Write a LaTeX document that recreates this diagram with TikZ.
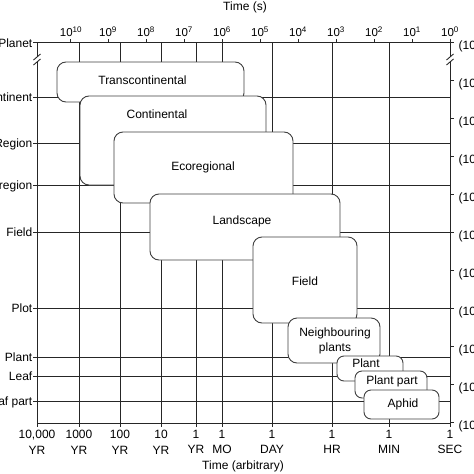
\documentclass[tikz,border=0pt]{standalone}
\usepackage{fontspec}
\setmainfont{Liberation Sans}
\begin{document}
\begin{tikzpicture}[x=1pt,y=-1pt,
  gridline/.style={line width=0.9pt, draw=black!85},
  boxstyle/.style={draw=black!75, line width=0.9pt, fill=white, rounded corners=9pt},
  sbox/.style={boxstyle, rounded corners=7pt},
  txt/.style={font=\fontsize{12}{14.5}\selectfont, inner sep=0pt},
  toplbl/.style={font=\fontsize{11.5}{13}\selectfont, inner sep=0pt, anchor=base},
  leftlbl/.style={txt, anchor=base east},
  rightlbl/.style={txt, anchor=base west},
  botlbl/.style={font=\fontsize{12}{15.5}\selectfont, inner sep=0pt, align=center, anchor=north}
]
\useasboundingbox (0,0) rectangle (474,474);

% grid: vertical lines
\foreach \x in {79,120,161,196,222,272,332,389}
  \draw[gridline] (\x,42.7) -- (\x,427);
% horizontal lines (with left ticks)
\foreach \y in {97,143,185,232,308,357,376,401}
  \draw[gridline] (33,\y) -- (450,\y);
% top and bottom axes
\draw[gridline] (33,42.7) -- (450,42.7);
\draw[gridline] (37,423) -- (450,423);
% left axis with break
\draw[gridline] (37,42.7) -- (37,57);
\draw[gridline] (37,62) -- (37,427);
\draw[gridline] (33.5,60) -- (40.5,54);
\draw[gridline] (33.5,65) -- (40.5,59);
% right axis with break
\draw[gridline] (450,38.7) -- (450,57);
\draw[gridline] (450,62) -- (450,427);
\draw[gridline] (446.5,60) -- (453.5,54);
\draw[gridline] (446.5,65) -- (453.5,59);
% top ticks
\foreach \x in {70,108,146,184,222,260,298,336,374,412}
  \draw[gridline] (\x,42.7) -- (\x,38.7);
% right ticks
\foreach \k in {0,...,10}
  \draw[gridline] (450,42.7+38*\k) -- (454,42.7+38*\k);

% titles
\node[txt] (ttop) at (245,7) {Time (s)};
\node[txt] (tbot) at (243,466) {Time (arbitrary)};

% top labels
\node[toplbl] (e10) at (71,36.5) {10\textsuperscript{10}};
\node[toplbl] (e9) at (108,36.5) {10\textsuperscript{9}};
\node[toplbl] (e8) at (146,36.5) {10\textsuperscript{8}};
\node[toplbl] (e7) at (184,36.5) {10\textsuperscript{7}};
\node[toplbl] (e6) at (222,36.5) {10\textsuperscript{6}};
\node[toplbl] (e5) at (260,36.5) {10\textsuperscript{5}};
\node[toplbl] (e4) at (298,36.5) {10\textsuperscript{4}};
\node[toplbl] (e3) at (336,36.5) {10\textsuperscript{3}};
\node[toplbl] (e2) at (374,36.5) {10\textsuperscript{2}};
\node[toplbl] (e1) at (412,36.5) {10\textsuperscript{1}};
\node[toplbl] (e0) at (450,36.5) {10\textsuperscript{0}};

% left labels
\node[leftlbl] (lplanet) at (32.5,47) {Planet};
\node[leftlbl] (lcont) at (32.5,101.3) {Continent};
\node[leftlbl] (lreg) at (32.5,147.3) {Region};
\node[leftlbl] (lsub) at (32.5,189.3) {Subregion};
\node[leftlbl] (lfield) at (32.5,236.3) {Field};
\node[leftlbl] (lplot) at (32.5,312.3) {Plot};
\node[leftlbl] (lplant) at (32.5,361.3) {Plant};
\node[leftlbl] (lleaf) at (32.5,380.3) {Leaf};
\node[leftlbl] (lleafp) at (32.5,405.3) {Leaf part};

% right labels
\foreach \k in {0,...,10}
  \node[rightlbl] (r\k) at (458.5,42.7+38*\k+7) {(10};

% bottom labels
\node[botlbl] (b1) at (37,430) {10,000\\YR};
\node[botlbl] (b2) at (79,430) {1000\\YR};
\node[botlbl] (b3) at (120,430) {100\\YR};
\node[botlbl] (b4) at (161,430) {10\\YR};
\node[botlbl] (b5) at (196,430) {1\\YR};
\node[botlbl] (b6) at (222,430) {1\\MO};
\node[botlbl] (b7) at (272,430) {1\\DAY};
\node[botlbl] (b8) at (332,430) {1\\HR};
\node[botlbl] (b9) at (389,430) {1\\MIN};
\node[botlbl] (b10) at (450,430) {1\\SEC};

% boxes
\draw[boxstyle] (57,62) rectangle (244,102);
\node[txt] (tc) at (142.5,80) {Transcontinental};
\draw[boxstyle] (80,96) rectangle (266,185);
\node[txt] (co) at (157,114) {Continental};
\draw[boxstyle] (114,132) rectangle (293,203);
\node[txt] (eco) at (203,167) {Ecoregional};
\draw[boxstyle] (150,194) rectangle (340,260);
\node[txt] (land) at (242,221) {Landscape};
\draw[boxstyle] (253,237) rectangle (357,323);
\node[txt] (fld) at (305,281) {Field};
\draw[boxstyle] (288,318) rectangle (380,363);
\node[txt, align=center] (nb) at (335,341) {Neighbouring\\plants};
\draw[sbox] (337,356) rectangle (403,381);
\node[txt] (pl) at (366,363) {Plant};
\draw[sbox] (355,371) rectangle (427,398);
\node[txt] (pp) at (392,381) {Plant part};
\draw[sbox] (364,390) rectangle (439,419);
\node[txt] (aph) at (403,404) {Aphid};
\end{tikzpicture}
\end{document}
